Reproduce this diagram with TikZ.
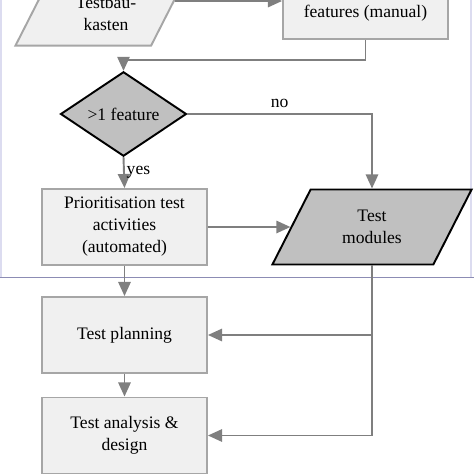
\documentclass[tikz,border=0pt]{standalone}
\usepackage{fontspec}
\setmainfont{Liberation Serif}
\usetikzlibrary{positioning,shapes.geometric,arrows.meta}

\definecolor{boxfill}{HTML}{F0F0F0}
\definecolor{boxline}{HTML}{A6A6A6}
\definecolor{decfill}{HTML}{C0C0C0}
\definecolor{flowline}{HTML}{7F7F7F}
\definecolor{frameline}{HTML}{8C8CB4}
\definecolor{framelight}{HTML}{DCDCF0}

\tikzset{
  process/.style={rectangle, draw=boxline, fill=boxfill, line width=1.1pt,
    minimum width=3.3cm, minimum height=1.52cm, align=center, inner sep=2pt},
  decision/.style={diamond, draw=black, fill=decfill, line width=1.1pt,
    minimum width=2.52cm, minimum height=1.5cm, inner sep=0pt},
  data/.style={trapezium, trapezium left angle=63, trapezium right angle=117,
    draw=black, fill=decfill, line width=1.1pt, minimum width=3.64cm,
    minimum height=1.5cm, align=center, inner sep=2pt},
  manualdata/.style={data, draw=boxline, fill=boxfill},
  flow/.style={->, draw=flowline, line width=1.1pt}
}

\begin{document}
\begin{tikzpicture}[x=0.02cm, y=-0.02cm,
  >={Triangle[length=8pt,width=7pt]},
  every node/.style={font=\fontsize{10}{12.5}\selectfont}]
\useasboundingbox (0,0) rectangle (474,474);
\clip (0,0) rectangle (474,474);

% frame of the page behind
\draw [framelight, line width=1.5pt] (471,0) -- (471,277.5);
\draw [framelight, line width=1pt] (1,0) -- (1,277.5);
\draw [frameline, line width=1pt] (0,277.5) -- (474,277.5);

\node [manualdata] (kit) at (106,1) {\strut\\Testbau-\\kasten};
\node [process] (feat) at (365.5,1) {\strut\\features (manual)};
\node [decision] (dec) at (123.5,114) {>1 feature};
\node [process] (prio) at (124.5,227) {Prioritisation test\\activities\\(automated)};
\node [data] (mod) at (372,227) {Test\\modules};
\node [process] (plan) at (124.5,335) {Test planning};
\node [process] (ana) at (124.5,435.5) {Test analysis \&\\design};

\draw [flow] (kit.east) -- (feat.west);
\draw [flow] (feat.south) -- ++(0,20) -| (dec.north);
\draw [flow] (dec.east) -| node [above,pos=0.25] {no} (mod.north);
\draw [flow] (dec.south) -- node [right,inner sep=1pt] {yes} (prio.north);
\draw [flow] (prio.east) -- (mod.west);
\draw [flow] (prio.south) -- (plan.north);
\draw [flow] (plan.south) -- (ana.north);
\draw [flow] (mod.south) |- (plan.east);
\draw [flow] (mod.south) |- (ana.east);
\end{tikzpicture}
\end{document}
